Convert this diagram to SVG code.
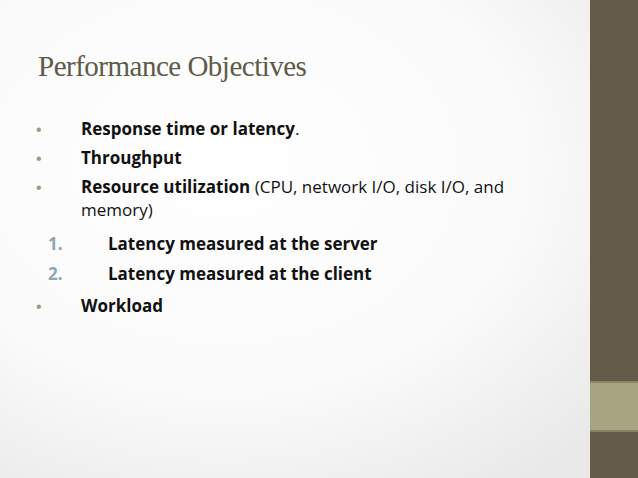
<svg xmlns="http://www.w3.org/2000/svg" width="638" height="478" viewBox="0 0 638 478">
<defs>
<radialGradient id="bg" cx="0.35" cy="0.35" r="0.8"><stop offset="0" stop-color="#ffffff"/><stop offset="0.6" stop-color="#fafafa"/><stop offset="1" stop-color="#e9e9e9"/></radialGradient>
<style>
.b{font-family:"Open Sans","Liberation Sans",sans-serif;font-size:17px;fill:#111;}
.bu{fill:#9b9a7c;font-family:"Liberation Sans",sans-serif;font-size:16px;}
.n{fill:#8fa6b0;font-weight:bold;}
</style>
</defs>
<rect width="638" height="478" fill="url(#bg)"/>
<rect x="590" y="0" width="48" height="478" fill="#645c48"/>
<rect x="590" y="383" width="48" height="47" fill="#a7a581"/>
<rect x="590" y="381" width="48" height="2" fill="#8a8567"/>
<rect x="590" y="430" width="48" height="2" fill="#8a8567"/>
<text x="38" y="76" font-family="Liberation Serif,serif" font-size="29" fill="#5e5a48" letter-spacing="-0.5">Performance Objectives</text>
<g id="items">
<text class="bu" x="36" y="135">•</text>
<text class="b" x="81" y="135"><tspan font-weight="bold">Response time or latency</tspan>.</text>
<text class="bu" x="36" y="164">•</text>
<text class="b" x="81" y="164" font-weight="bold">Throughput</text>
<text class="bu" x="36" y="193">•</text>
<text class="b" x="81" y="193"><tspan font-weight="bold">Resource utilization</tspan> (CPU, network I/O, disk I/O, and</text>
<text class="b" x="81" y="216">memory)</text>
<text class="b n" x="48" y="250">1.</text>
<text class="b" x="108" y="250" font-weight="bold">Latency measured at the server</text>
<text class="b n" x="48" y="280">2.</text>
<text class="b" x="108" y="280" font-weight="bold">Latency measured at the client</text>
<text class="bu" x="36" y="312">•</text>
<text class="b" x="81" y="312" font-weight="bold">Workload</text>
</g>
</svg>
